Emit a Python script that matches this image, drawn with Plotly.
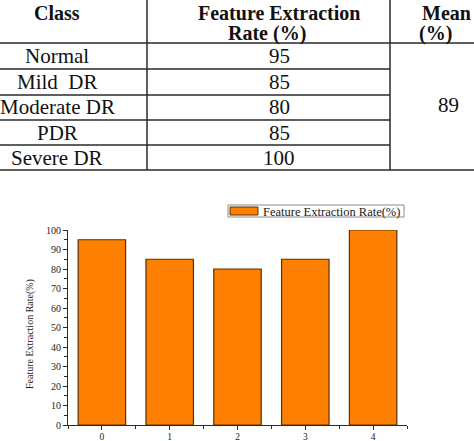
import plotly.graph_objects as go

# ---- data ----
classes = ["Normal", "Mild  DR", "Moderate DR", "PDR", "Severe DR"]
rates = [95, 85, 80, 85, 100]
mean_rate = 89
x_idx = [0, 1, 2, 3, 4]
x_labels = ["0", "1", "2", "3", "4"]
header = ["Class", "Feature Extraction", "Rate (%)", "Mean", "(%)"]
series_name = "Feature Extraction Rate(%)"
y_title = "Feature Extraction Rate(%)"

W, H = 474, 441
def px(x):
    return x / W
def py(y):
    return 1 - y / H

SERIF = "Liberation Serif, Times New Roman, serif"
LINE = "#2a2a2a"
ORANGE = "#FF8000"
EDGE = "#5a3000"

fig = go.Figure()
fig.add_trace(go.Bar(
    x=x_idx, y=rates, width=0.7, name=series_name,
    marker=dict(color=ORANGE, line=dict(color=EDGE, width=1.2)),
    showlegend=False,
))

shapes = []
annotations = []

# ---- table lines ----
def hline(y, x0, x1):
    shapes.append(dict(type="line", xref="paper", yref="paper",
                       x0=px(x0), x1=px(x1), y0=py(y), y1=py(y),
                       line=dict(color=LINE, width=1.5)))
def vline(x, y0, y1):
    shapes.append(dict(type="line", xref="paper", yref="paper",
                       x0=px(x), x1=px(x), y0=py(y0), y1=py(y1),
                       line=dict(color=LINE, width=1.5)))

hline(43, 0, W)
for yy in [69, 95, 120, 145]:
    hline(yy, 0, 390)
hline(170, 0, W)
vline(147, 0, 170)
vline(390, 0, 170)

def text(t, x, y, size=21, bold=False, xanchor="center"):
    annotations.append(dict(
        text=f"<b>{t}</b>" if bold else t, xref="paper", yref="paper",
        x=px(x), y=py(y), xanchor=xanchor, yanchor="middle", showarrow=False,
        font=dict(family=SERIF, size=size, color="#111")))

# header
text(header[0], 57, 13, size=20, bold=True)
text(header[1], 279, 13, size=20, bold=True)
text(header[2], 267, 33.5, size=20, bold=True)
text(header[3], 473, 13, size=20, bold=True, xanchor="right")
text(header[4], 417, 33.5, size=20, bold=True, xanchor="left")

row_centers = [56, 82, 107.5, 132.5, 157.5]
for c, r, yc in zip(classes, rates, row_centers):
    text(c.replace("  ", "&nbsp; "), 57, yc)
    text(str(r), 279, yc)
text(str(mean_rate), 448, 105)

# ---- manual legend ----
shapes.append(dict(type="rect", xref="paper", yref="paper",
                   x0=px(228), x1=px(404), y0=py(217), y1=py(205),
                   line=dict(color="#8a8a8a", width=1), fillcolor="white"))
shapes.append(dict(type="rect", xref="paper", yref="paper",
                   x0=px(230), x1=px(258), y0=py(215), y1=py(207),
                   line=dict(color=EDGE, width=1), fillcolor=ORANGE))
annotations.append(dict(text=series_name, xref="paper", yref="paper",
                        x=px(261), y=py(211.5), xanchor="left", yanchor="middle",
                        showarrow=False,
                        font=dict(family=SERIF, size=12.5, color="#222")))

# y title
annotations.append(dict(text=y_title, xref="paper", yref="paper",
                        x=px(30), y=py(334), xanchor="center", yanchor="middle",
                        textangle=-90, showarrow=False,
                        font=dict(family=SERIF, size=10, color="#222")))

fig.update_layout(
    width=W, height=H,
    margin=dict(l=0, r=0, t=0, b=0),
    paper_bgcolor="white", plot_bgcolor="white",
    shapes=shapes, annotations=annotations,
    bargap=0.3,
    xaxis=dict(domain=[px(68), px(407)], range=[-0.5, 4.5],
               tickmode="array", tickvals=x_idx, ticktext=x_labels,
               showline=True, linecolor=LINE, linewidth=1.2,
               ticks="outside", ticklen=4, tickwidth=1, tickcolor=LINE,
               ticklabelstandoff=-2,
               minor=dict(tickmode="array", tickvals=[-0.5, 0.5, 1.5, 2.5, 3.5, 4.5],
                          ticks="outside", ticklen=3, tickcolor=LINE),
               showgrid=False, zeroline=False, automargin=False,
               tickfont=dict(family=SERIF, size=9.5, color="#222")),
    yaxis=dict(domain=[py(425), py(230)], range=[0, 100],
               tickmode="linear", tick0=0, dtick=10,
               showline=True, linecolor=LINE, linewidth=1.2,
               ticks="outside", ticklen=4, tickwidth=1, tickcolor=LINE,
               minor=dict(dtick=5, ticks="outside", ticklen=2.5, tickcolor=LINE),
               showgrid=False, zeroline=False, automargin=False,
               tickfont=dict(family=SERIF, size=10, color="#222")),
)

fig.write_html("out.html")
